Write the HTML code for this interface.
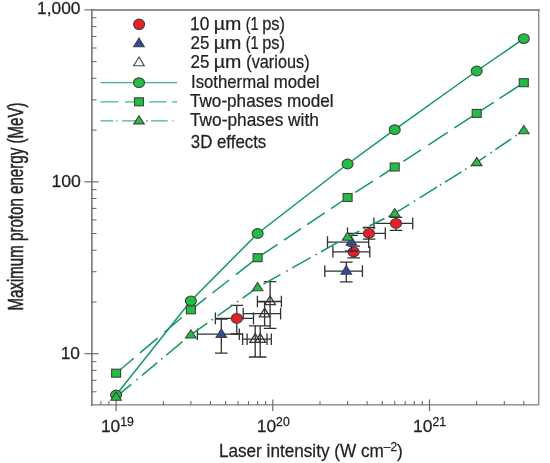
<!DOCTYPE html><html><head><meta charset="utf-8"><title>Maximum proton energy vs laser intensity</title>
<style>html,body{margin:0;padding:0;background:#fff}svg{display:block}text{font-family:"Liberation Sans",sans-serif;fill:#262223}</style></head><body>
<svg width="550" height="463" viewBox="0 0 550 463">
<rect width="550" height="463" fill="#fff"/>
<g stroke="#6c6c6c" stroke-width="1.45" fill="none" stroke-linecap="square">
<path d="M91.9,404.9V10.0H538.8"/>
</g>
<g stroke="#5c5c5c" stroke-width="1.0" fill="none" stroke-linecap="square">
<path d="M91.9,404.9H538.8V10.0"/>
</g>
<g stroke="#686868" stroke-width="1.15" fill="none" stroke-linecap="butt">
<line x1="84.4" y1="353.7" x2="98.7" y2="353.7"/>
<line x1="84.4" y1="181.8" x2="98.7" y2="181.8"/>
<line x1="84.4" y1="9.9" x2="91.9" y2="9.9"/>
<line x1="116.1" y1="399.4" x2="116.1" y2="411.1"/>
<line x1="272.8" y1="399.4" x2="272.8" y2="411.1"/>
<line x1="429.5" y1="399.4" x2="429.5" y2="411.1"/>
</g>
<g stroke="#686868" stroke-width="1.05" fill="none">
<line x1="91.9" y1="391.8" x2="96.5" y2="391.8"/>
<line x1="91.9" y1="380.3" x2="96.5" y2="380.3"/>
<line x1="91.9" y1="370.4" x2="96.5" y2="370.4"/>
<line x1="91.9" y1="361.6" x2="96.5" y2="361.6"/>
<line x1="91.9" y1="302.0" x2="96.5" y2="302.0"/>
<line x1="91.9" y1="271.7" x2="96.5" y2="271.7"/>
<line x1="91.9" y1="250.2" x2="96.5" y2="250.2"/>
<line x1="91.9" y1="233.5" x2="96.5" y2="233.5"/>
<line x1="91.9" y1="219.9" x2="96.5" y2="219.9"/>
<line x1="91.9" y1="208.4" x2="96.5" y2="208.4"/>
<line x1="91.9" y1="198.5" x2="96.5" y2="198.5"/>
<line x1="91.9" y1="189.7" x2="96.5" y2="189.7"/>
<line x1="91.9" y1="130.1" x2="96.5" y2="130.1"/>
<line x1="91.9" y1="99.8" x2="96.5" y2="99.8"/>
<line x1="91.9" y1="78.3" x2="96.5" y2="78.3"/>
<line x1="91.9" y1="61.6" x2="96.5" y2="61.6"/>
<line x1="91.9" y1="48.0" x2="96.5" y2="48.0"/>
<line x1="91.9" y1="36.5" x2="96.5" y2="36.5"/>
<line x1="91.9" y1="26.6" x2="96.5" y2="26.6"/>
<line x1="91.9" y1="17.8" x2="96.5" y2="17.8"/>
<line x1="100.9" y1="404.9" x2="100.9" y2="401.1"/>
<line x1="108.9" y1="404.9" x2="108.9" y2="401.1"/>
<line x1="163.3" y1="404.9" x2="163.3" y2="401.1"/>
<line x1="190.9" y1="404.9" x2="190.9" y2="401.1"/>
<line x1="210.4" y1="404.9" x2="210.4" y2="401.1"/>
<line x1="225.6" y1="404.9" x2="225.6" y2="401.1"/>
<line x1="238.0" y1="404.9" x2="238.0" y2="401.1"/>
<line x1="248.5" y1="404.9" x2="248.5" y2="401.1"/>
<line x1="257.6" y1="404.9" x2="257.6" y2="401.1"/>
<line x1="265.6" y1="404.9" x2="265.6" y2="401.1"/>
<line x1="320.0" y1="404.9" x2="320.0" y2="401.1"/>
<line x1="347.6" y1="404.9" x2="347.6" y2="401.1"/>
<line x1="367.1" y1="404.9" x2="367.1" y2="401.1"/>
<line x1="382.3" y1="404.9" x2="382.3" y2="401.1"/>
<line x1="394.7" y1="404.9" x2="394.7" y2="401.1"/>
<line x1="405.2" y1="404.9" x2="405.2" y2="401.1"/>
<line x1="414.3" y1="404.9" x2="414.3" y2="401.1"/>
<line x1="422.3" y1="404.9" x2="422.3" y2="401.1"/>
<line x1="476.7" y1="404.9" x2="476.7" y2="401.1"/>
<line x1="504.3" y1="404.9" x2="504.3" y2="401.1"/>
<line x1="523.8" y1="404.9" x2="523.8" y2="401.1"/>
</g>
<g stroke="#303030" stroke-width="1.3" fill="none"><path d="M215.4,318.4H253.5M215.4,312.6V324.2M253.5,312.6V324.2M236.8,305.4V334.0M230.5,305.4H243.1M230.5,334.0H243.1M373.9,223.4H412.7M373.9,217.6V229.2M412.7,217.6V229.2M396.0,217.3V230.4M389.7,217.3H402.3M389.7,230.4H402.3M347.5,233.4H385.3M347.5,227.6V239.2M385.3,227.6V239.2M369.0,227.5V239.2M362.7,227.5H375.3M362.7,239.2H375.3M332.9,251.8H369.8M332.9,246.0V257.6M369.8,246.0V257.6M353.7,246.2V257.8M347.4,246.2H360.0M347.4,257.8H360.0"/></g>
<g stroke="#414141" stroke-width="1.1">
<ellipse cx="236.8" cy="318.4" rx="5.5" ry="4.85" fill="#ee1c23"/>
<ellipse cx="396.0" cy="223.4" rx="5.5" ry="4.85" fill="#ee1c23"/>
<ellipse cx="369.0" cy="233.4" rx="5.5" ry="4.85" fill="#ee1c23"/>
<ellipse cx="353.7" cy="251.8" rx="5.5" ry="4.85" fill="#ee1c23"/>
</g>
<g stroke="#303030" stroke-width="1.3" fill="none"><path d="M197.4,334.2H239.3M197.4,328.4V340.0M239.3,328.4V340.0M221.3,319.0V353.2M215.0,319.0H227.6M215.0,353.2H227.6M327.5,242.1H368.7M327.5,236.3V247.9M368.7,236.3V247.9M351.4,235.4V251.0M345.1,235.4H357.7M345.1,251.0H357.7M324.8,271.1H362.4M324.8,265.3V276.9M362.4,265.3V276.9M346.3,262.2V281.8M340.0,262.2H352.6M340.0,281.8H352.6"/></g>
<g stroke="#414141" stroke-width="1.1">
<polygon points="221.3,328.7 226.6,337.4 216.0,337.4" fill="#2a4ea6"/>
<polygon points="351.4,236.6 356.7,245.3 346.1,245.3" fill="#2a4ea6"/>
<polygon points="346.3,265.6 351.6,274.3 341.0,274.3" fill="#2a4ea6"/>
</g>
<g stroke="#303030" stroke-width="1.3" fill="none"><path d="M257.4,301.5H281.4M257.4,295.7V307.3M281.4,295.7V307.3M270.1,281.7V328.4M263.8,281.7H276.4M263.8,328.4H276.4M243.2,313.7H280.6M243.2,307.9V319.5M280.6,307.9V319.5M264.6,301.8V325.9M258.3,301.8H270.9M258.3,325.9H270.9M242.6,339.2H267.0M242.6,333.4V345.0M267.0,333.4V345.0M255.2,325.9V357.0M248.9,325.9H261.5M248.9,357.0H261.5M247.1,339.2H271.3M247.1,333.4V345.0M271.3,333.4V345.0M260.2,325.9V357.0M253.9,325.9H266.5M253.9,357.0H266.5"/></g>
<g stroke="#353535" stroke-width="1.3">
<polygon points="270.1,296.0 275.4,304.7 264.8,304.7" fill="none"/>
<polygon points="264.6,308.2 269.9,316.9 259.3,316.9" fill="none"/>
<polygon points="255.2,333.7 260.5,342.4 249.9,342.4" fill="none"/>
<polygon points="260.2,333.7 265.5,342.4 254.9,342.4" fill="none"/>
</g>
<g fill="none" stroke="#0f9960" stroke-width="1.5">
<polyline points="116.1,395.0 190.9,300.8 257.6,233.5 347.6,164.0 394.7,129.7 476.7,71.0 523.8,38.6"/>
<polyline points="116.1,373.2 190.9,309.8 257.6,257.7 347.6,197.5 394.7,167.0 476.7,113.4 523.8,82.7" stroke-dasharray="23.2 8.2 22.9 9.0 22.9 7.4 23.8 7.9 21.2 8.8 21.7 8.0 21.8 7.6 20.6 7.3 21.1 7.6 21.5 7.7 21.0 7.9 20.4 7.9 21.0 8.8 23.1 8.1 22.6 8.0 16.4 7.0 47.6 2000.0"/>
<polyline points="116.1,396.9 190.9,334.7 257.6,287.4 347.6,236.9 394.7,213.4 476.7,162.3 523.8,130.4" stroke-dasharray="19.7 6.6 1.7 5.5 20.1 5.0 1.7 4.9 21.2 5.2 1.7 4.2 19.9 5.2 1.7 5.7 18.6 5.2 1.7 5.2 20.0 5.0 19.5 6.7 1.7 5.2 21.0 5.7 1.7 4.7 20.0 4.6 1.7 4.1 13.0 4.8 1.7 4.8 16.9 4.3 1.7 4.6 18.0 5.3 1.7 5.3 20.5 3.2 1.7 4.3 19.5 4.3 1.7 4.8 18.2 5.3 1.7 4.4 19.2 4.9 1.7 2000.0"/>
</g>
<g stroke="#414141" stroke-width="1.1">
<ellipse cx="116.1" cy="395.0" rx="5.5" ry="4.85" fill="#1fbf40"/>
<ellipse cx="190.9" cy="300.8" rx="5.5" ry="4.85" fill="#1fbf40"/>
<ellipse cx="257.6" cy="233.5" rx="5.5" ry="4.85" fill="#1fbf40"/>
<ellipse cx="347.6" cy="164.0" rx="5.5" ry="4.85" fill="#1fbf40"/>
<ellipse cx="394.7" cy="129.7" rx="5.5" ry="4.85" fill="#1fbf40"/>
<ellipse cx="476.7" cy="71.0" rx="5.5" ry="4.85" fill="#1fbf40"/>
<ellipse cx="523.8" cy="38.6" rx="5.5" ry="4.85" fill="#1fbf40"/>
<rect x="111.6" y="369.2" width="9.0" height="8.0" fill="#1fbf40"/>
<rect x="186.4" y="305.8" width="9.0" height="8.0" fill="#1fbf40"/>
<rect x="253.1" y="253.7" width="9.0" height="8.0" fill="#1fbf40"/>
<rect x="343.1" y="193.5" width="9.0" height="8.0" fill="#1fbf40"/>
<rect x="390.2" y="163.0" width="9.0" height="8.0" fill="#1fbf40"/>
<rect x="472.2" y="109.4" width="9.0" height="8.0" fill="#1fbf40"/>
<rect x="519.3" y="78.7" width="9.0" height="8.0" fill="#1fbf40"/>
<polygon points="116.1,392.0 121.4,400.2 110.8,400.2" fill="#1fbf40"/>
<polygon points="190.9,329.8 196.2,338.0 185.6,338.0" fill="#1fbf40"/>
<polygon points="257.6,282.5 262.9,290.7 252.3,290.7" fill="#1fbf40"/>
<polygon points="347.6,232.0 352.9,240.2 342.3,240.2" fill="#1fbf40"/>
<polygon points="394.7,208.5 400.0,216.7 389.4,216.7" fill="#1fbf40"/>
<polygon points="476.7,157.4 482.0,165.6 471.4,165.6" fill="#1fbf40"/>
<polygon points="523.8,125.5 529.1,133.7 518.5,133.7" fill="#1fbf40"/>
</g>
<g fill="none" stroke="#3fb98a" stroke-width="1.2">
<line x1="100.5" y1="82.7" x2="177.2" y2="82.7"/>
<path d="M100.5,101.8H118.3M125,101.8H143M149,101.8H166.5M172.3,101.8H177.2"/>
<path d="M100.5,120.9H113.2M116.2,120.9H117.6M122.3,120.9H140M146,120.9H148M151,120.9H167.7M172.2,120.9H173.4"/>
</g>
<g stroke="#414141" stroke-width="1.1">
<ellipse cx="139.1" cy="24.3" rx="5.5" ry="5.2" fill="#ee1c23"/>
<polygon points="139.0,38.0 144.3,46.7 133.7,46.7" fill="#2a4ea6"/>
<polygon points="139.0,57.0 144.3,65.7 133.7,65.7" fill="#fff"/>
<ellipse cx="139.0" cy="82.7" rx="5.5" ry="4.85" fill="#1fbf40"/>
<rect x="134.5" y="97.8" width="9.0" height="8.0" fill="#1fbf40"/>
<polygon points="139.0,115.7 144.3,123.9 133.7,123.9" fill="#1fbf40"/>
</g>
<text transform="translate(190.10,29.7) scale(0.9505,1)" font-size="18.2" stroke="#262223" stroke-width="0.25">10</text>
<text transform="translate(213.63,29.7) scale(1.0774,1)" font-size="18.2" stroke="#262223" stroke-width="0.25">µm</text>
<text transform="translate(245.72,29.7) scale(0.8049,1)" font-size="18.2" stroke="#262223" stroke-width="0.25">(1</text>
<text transform="translate(262.13,29.7) scale(0.9070,1)" font-size="18.2" stroke="#262223" stroke-width="0.25">ps)</text>
<text transform="translate(190.55,49.0) scale(0.9319,1)" font-size="18.2" stroke="#262223" stroke-width="0.25">25</text>
<text transform="translate(213.63,49.0) scale(1.0774,1)" font-size="18.2" stroke="#262223" stroke-width="0.25">µm</text>
<text transform="translate(245.72,49.0) scale(0.8049,1)" font-size="18.2" stroke="#262223" stroke-width="0.25">(1</text>
<text transform="translate(262.13,49.0) scale(0.9070,1)" font-size="18.2" stroke="#262223" stroke-width="0.25">ps)</text>
<text transform="translate(190.55,68.3) scale(0.9319,1)" font-size="18.2" stroke="#262223" stroke-width="0.25">25</text>
<text transform="translate(213.63,68.3) scale(1.0774,1)" font-size="18.2" stroke="#262223" stroke-width="0.25">µm</text>
<text transform="translate(246.22,68.3) scale(0.8960,1)" font-size="18.2" stroke="#262223" stroke-width="0.25">(various)</text>
<text transform="translate(191.0,87.6) scale(0.9205,1)" font-size="18.2" stroke="#262223" stroke-width="0.25">Isothermal model</text>
<text transform="translate(190.0,107.0) scale(0.9414,1)" font-size="18.2" stroke="#262223" stroke-width="0.25">Two-phases model</text>
<text transform="translate(190.0,126.2) scale(0.9517,1)" font-size="18.2" stroke="#262223" stroke-width="0.25">Two-phases with</text>
<text transform="translate(190.8,147.7) scale(0.9252,1)" font-size="18.2" stroke="#262223" stroke-width="0.25">3D effects</text>
<text transform="translate(37.0,14.4) scale(1.0599,1)" font-size="16.4" stroke="#262223" stroke-width="0.25">1,000</text>
<text transform="translate(51.4,187.2) scale(1.0280,1)" font-size="17.2" stroke="#262223" stroke-width="0.25">100</text>
<text transform="translate(60.7,359.3) scale(1.0088,1)" font-size="17.2" stroke="#262223" stroke-width="0.25">10</text>
<text transform="translate(100.9,431.5) scale(1.0023,1)" font-size="17.4" stroke="#262223" stroke-width="0.25">10<tspan font-size="12.2" dy="-5.9">19</tspan></text>
<text transform="translate(256.7,431.5) scale(1.0023,1)" font-size="17.4" stroke="#262223" stroke-width="0.25">10<tspan font-size="12.2" dy="-5.9">20</tspan></text>
<text transform="translate(413.0,431.5) scale(1.0023,1)" font-size="17.4" stroke="#262223" stroke-width="0.25">10<tspan font-size="12.2" dy="-5.9">21</tspan></text>
<text transform="translate(218.9,456.6) scale(0.9328,1)" font-size="18.4" stroke="#262223" stroke-width="0.25">Laser intensity (W cm<tspan font-size="12.8" dy="-5.5">–2</tspan><tspan dy="5.5" font-size="18.4">)</tspan></text>
<text transform="translate(22.9,310.6) rotate(-90) scale(0.6867,1)" font-size="22.0" stroke="#262223" stroke-width="0.5">Maximum proton energy (MeV)</text>
</svg></body></html>
